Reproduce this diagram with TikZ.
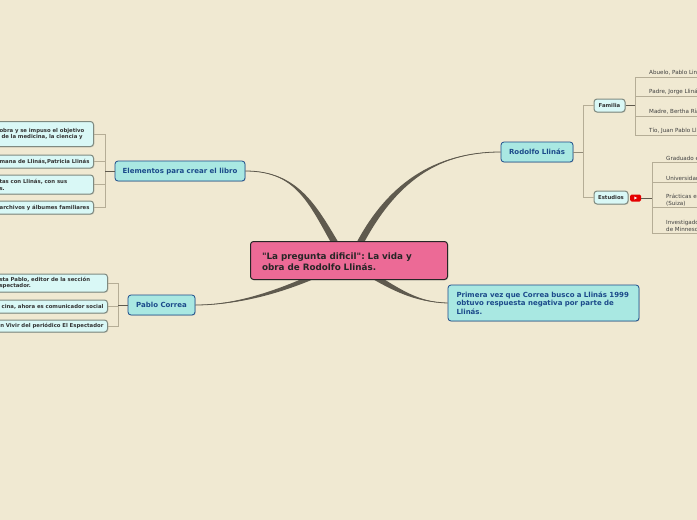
\documentclass[tikz,border=0pt]{standalone}
\usepackage{fontspec}
\setmainfont{DejaVu Sans}[Ligatures=TeXOff]
\usepackage{tikz}
\usetikzlibrary{calc, shadows}
\definecolor{paper}{HTML}{F0E9D2}
\definecolor{rootpink}{HTML}{EC6A96}
\definecolor{topicfill}{HTML}{A9E8E2}
\definecolor{topicline}{HTML}{1B4A8A}
\definecolor{subfill}{HTML}{D9F8F6}
\definecolor{subline}{HTML}{7F8A80}
\definecolor{curve}{HTML}{5F5A4E}
\definecolor{twig}{HTML}{B5AD96}
\tikzset{
  softshadow/.style={drop shadow={opacity=0.25, shadow xshift=0.8pt, shadow yshift=-0.8pt}},
  rootbox/.style={draw=black!85, line width=1pt, fill=rootpink, rounded corners=3pt, softshadow,
    font=\bfseries\frenchspacing\fontsize{8.8}{11}\selectfont, text=black!85, align=left, anchor=north west,
    minimum width=197pt, minimum height=38pt, text width=174pt, inner xsep=11.5pt},
  topicbox/.style={draw=topicline, line width=0.8pt, fill=topicfill, rounded corners=3pt, softshadow,
    font=\bfseries\fontsize{7}{8.6}\selectfont, text=topicline, align=center, minimum height=20pt, inner sep=0pt, text depth=0pt},
  subbox/.style={draw=subline, line width=1pt, fill=subfill, rounded corners=3pt, softshadow,
    font=\bfseries\fontsize{5.35}{6.8}\selectfont, text=black!80, inner xsep=4pt, inner ysep=0pt, anchor=east},
  leaf/.style={font=\fontsize{5.6}{6.6}\selectfont, text=black!75, anchor=south west, align=left,
    inner xsep=0pt, inner ysep=1.5pt},
  twigline/.style={draw=twig, line width=1pt},
  trunk/.style={draw=curve, line width=1pt},
}
% tapered branch: start, first control, second control, end, half width
\newcommand{\taper}[5]{\fill[curve] ($(#1)+(#5)$) .. controls ($(#2)+(#5)$) and (#3) .. (#4) .. controls (#3) and ($(#2)-(#5)$) .. ($(#1)-(#5)$) -- cycle;
  \draw[curve, line width=0.8pt] (#1) .. controls (#2) and (#3) .. (#4);}
\begin{document}
\begin{tikzpicture}[x=1pt, y=-1pt]
    \useasboundingbox (0,0) rectangle (697,520);
    \fill[paper] (0,0) rectangle (697,520);
    \clip (0,0) rectangle (697,520);

    % Main nodes
    \coordinate (middle) at (348,260);
    \coordinate (middleleft) at (342,255);
    \coordinate (middleright) at (354,255);
    \node[topicbox, minimum width=130pt] (elementos) at (180,171) {Elementos para crear el libro};
    \node[topicbox, minimum width=67pt] (pablo) at (161.5,305) {Pablo Correa};
    \node[topicbox, minimum width=72pt] (rodolfo) at (537,152) {Rodolfo Llinás};
    \node[topicbox, minimum width=191pt, minimum height=36pt, text width=174pt, align=left, text depth=] (primera) at (543.5,303)
      {\mbox{Primera vez que Correa busco a Llinás 1999}\\\mbox{obtuvo respuesta negativa por parte de}\\Llinás.};

    % Branches from the middle
    \taper{middleleft}{314,208}{300,171}{elementos.east}{-3,1.5}
    \taper{middleright}{388,184}{435,152}{rodolfo.west}{3,1.5}
    \taper{middle}{290,290}{240,305}{pablo.east}{0,3}
    \taper{middle}{395,290}{415,302}{primera.west}{1.5,-3}
    \node[rootbox] (root) at (250,241) {\rule{0pt}{9pt}"La pregunta dificil": La vida y\\obra de Rodolfo Llinás.};

    % Elementos
    \coordinate (elemhub) at (105,171);
    \node[subbox, minimum height=25pt, text width=90pt, align=left] (elem1) at (94,134) {\mbox{obra y se impuso el objetivo}\\\mbox{\kern2pt de la medicina, la ciencia y}};
    \node[subbox, minimum height=13pt, text width=90pt, align=right] (elem2) at (94,161.5) {\mbox{mana de Llinás,Patricia Llinás}};
    \node[subbox, minimum height=19pt, text width=90pt, align=left] (elem3) at (94,184.5) {\mbox{tas con Llinás, con sus}\\s.};
    \node[subbox, minimum height=13pt, text width=90pt, align=right] (elem4) at (94,207.5) {\mbox{archivos y álbumes familiares}};
    \draw[twigline] (elem1.east) -| (elemhub);
    \draw[twigline] (elem2.east) -| (elemhub);
    \draw[twigline] (elem3.east) -| (elemhub);
    \draw[twigline] (elem4.east) -| (elemhub);
    \draw[trunk] (elementos.west) -- (elemhub);

    % Pablo
    \coordinate (pablohub) at (118,305);
    \node[subbox, minimum height=18pt, text width=104pt, align=left] (pablo1) at (108,283) {\mbox{sta Pablo, editor de la sección}\\spectador.};
    \node[subbox, minimum height=13pt, text width=104pt, align=right] (pablo2) at (108,306.5) {\mbox{cina, ahora es comunicador social}};
    \node[subbox, minimum height=12pt, text width=104pt, align=right] (pablo3) at (108,326) {\mbox{n Vivir del periódico El Espectador}};
    \draw[twigline] (pablo1.east) -| (pablohub);
    \draw[twigline] (pablo2.east) -| (pablohub);
    \draw[twigline] (pablo3.east) -| (pablohub);
    \draw[trunk] (pablo.west) -- (pablohub);

    % Rodolfo
    \coordinate (rodohub) at (583,152);
    \node[subbox, anchor=center, minimum width=31pt, minimum height=13pt, inner xsep=0pt] (familia) at (609.5,105.5) {Familia};
    \node[subbox, anchor=center, minimum width=34pt, minimum height=13pt, inner xsep=0pt] (estudios) at (611,197.5) {Estudios};
    \draw[twigline] (familia.west) -| (rodohub);
    \draw[twigline] (estudios.west) -| (rodohub);
    \draw[trunk, draw=twig!80!black] (rodolfo.east) -- (rodohub);

    % Familia
    \coordinate (famhub) at (635,105.5);
    \node[leaf] (abuelo) at (649,77) {Abuelo, Pablo Lin};
    \node[leaf] (padre) at (649,96.5) {Padre, Jorge Lliná};
    \node[leaf] (madre) at (649,116) {Madre, Bertha Ría};
    \node[leaf] (tio) at (649,135) {Tío, Juan Pablo Ll};
    \coordinate (abueloend) at (abuelo.south -| 700,0);
    \coordinate (padreend) at (padre.south -| 700,0);
    \coordinate (madreend) at (madre.south -| 700,0);
    \coordinate (tioend) at (tio.south -| 700,0);
    \draw[twigline] (famhub) |- (abueloend);
    \draw[twigline] (famhub) |- (padreend);
    \draw[twigline] (famhub) |- (madreend);
    \draw[twigline] (famhub) |- (tioend);
    \draw[trunk] (familia.east) -- (famhub);

    % Estudios
    \node[fill=red!90!black, rounded corners=1.5pt, minimum width=11pt, minimum height=7pt, inner sep=0pt] (video) at (635.5,198) {};
    \fill[white] ($(video)+(-1.2,-1.5)$) -- ($(video)+(1.6,0)$) -- ($(video)+(-1.2,1.5)$) -- cycle;
    \coordinate (estuhub) at (652,198);
    \node[leaf] (graduado) at (666,162) {Graduado e};
    \node[leaf] (universidad) at (666,182) {Universidad};
    \node[leaf] (practicas) at (666,207.5) {Prácticas e\\(Suiza)};
    \node[leaf] (investigado) at (666,233) {Investigado\\de Minneso};
    \coordinate (graduadoend) at (graduado.south -| 700,0);
    \coordinate (universidadend) at (universidad.south -| 700,0);
    \coordinate (practicasend) at (practicas.south -| 700,0);
    \coordinate (investigadoend) at (investigado.south -| 700,0);
    \draw[twigline] (estuhub) |- (graduadoend);
    \draw[twigline] (estuhub) |- (universidadend);
    \draw[twigline] (estuhub) |- (practicasend);
    \draw[twigline] (estuhub) |- (investigadoend);
    \draw[trunk] (video.east) -- (estuhub);
\end{tikzpicture}
\end{document}
